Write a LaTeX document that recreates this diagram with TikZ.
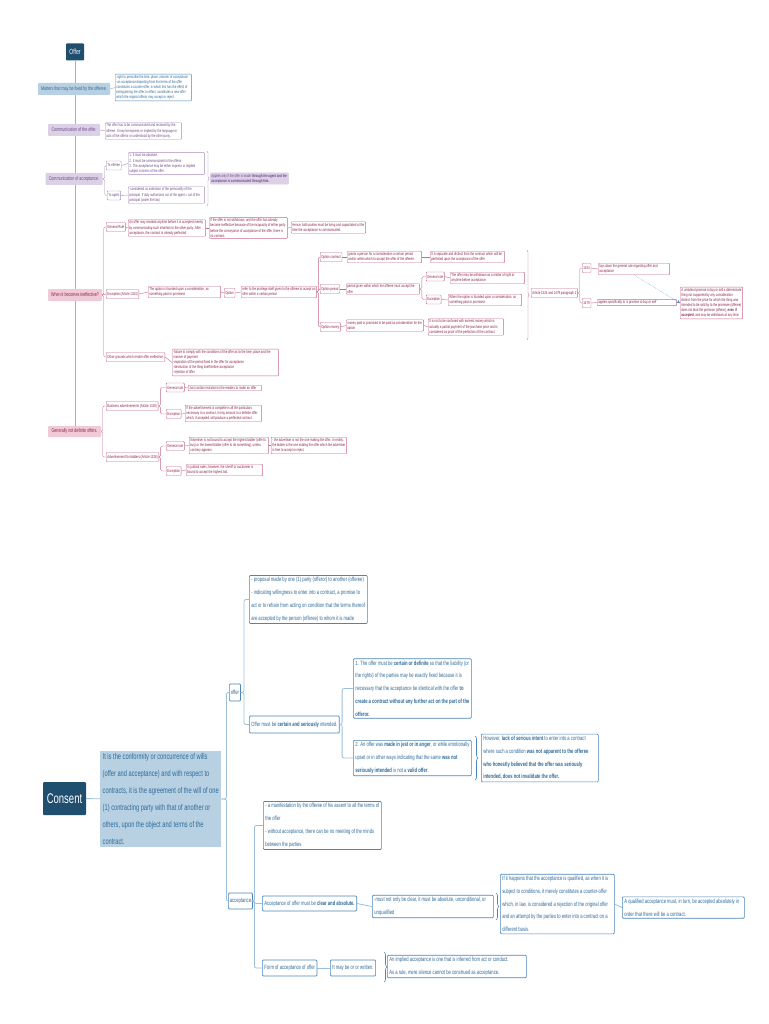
\documentclass[tikz,border=0pt]{standalone}
\usepackage{fontspec}
\setmainfont{Liberation Sans}[FakeStretch=0.68]
\usetikzlibrary{decorations.pathreplacing}
\definecolor{blueD}{HTML}{1F4E6E}
\definecolor{blueT}{HTML}{2F6A9A}
\definecolor{blueB}{HTML}{4A86B8}
\definecolor{blueL}{HTML}{B7D0E2}
\definecolor{lineB}{HTML}{9CC0DC}
\definecolor{purT}{HTML}{6E4A86}
\definecolor{purB}{HTML}{A98BBF}
\definecolor{purF}{HTML}{DCD0E6}
\definecolor{pinkT}{HTML}{8E2449}
\definecolor{pinkB}{HTML}{C56A8B}
\definecolor{pinkF}{HTML}{F0CAD7}
\newcommand\tf{\fontsize{4.2}{5.1}\selectfont}
\newcommand\bfnt{\fontsize{6.1}{12.8}\selectfont}
\tikzset{
 tp/.style={draw=pinkB, fill=white, rounded corners=0.8pt, inner sep=1.2pt, align=flush left, anchor=west, font=\tf, text=pinkT, line width=0.4pt},
 tq/.style={tp, draw=purB, text=purT},
 tbl/.style={tp, draw=blueB, text=blueT},
 lab/.style={minimum height=9pt},
 cat/.style={anchor=center, inner sep=1pt, rounded corners=0.8pt, font=\fontsize{5.4}{6}\selectfont},
 cp/.style={draw=pinkB, line width=0.4pt, rounded corners=1.5pt},
 cq/.style={draw=purB, line width=0.4pt, rounded corners=1.5pt},
 bb/.style={draw=blueB, fill=white, rounded corners=1pt, inner sep=2pt, align=flush left, anchor=west, font=\bfnt, text=blueT, line width=0.7pt},
 cb/.style={draw=lineB, line width=0.8pt, rounded corners=2pt},
 brp/.style={decorate, decoration={brace, amplitude=2pt}, draw=pinkB, line width=0.4pt},
 brb/.style={decorate, decoration={brace, amplitude=3pt}, draw=blueB, line width=0.6pt},
}
\begin{document}
\begin{tikzpicture}[x=1pt,y=-1pt]
\useasboundingbox[fill=white] (0,0) rectangle (768,1024);
% ===== TOP =====
\draw[draw=blueB!60, line width=0.5pt] (75,61) -- (75,431);
\node[cat, fill=blueD, text=white, minimum width=18pt, minimum height=17pt, font=\fontsize{7.5}{8}\selectfont] (offer) at (75,52) {Offer};
\node[cat, fill=blueL, text=blueT, minimum width=72pt, minimum height=12pt] (matters) at (74,89) {Matters that may be fixed by the offeree.};
\node[tbl, text width=74pt] (mtext) at (115,87.5) {-right to prescribe the time, place, manner of acceptance\\-an acceptance departing from the terms of the offer constitutes a counter-offer, in which this has the effect of extinguishing the offer, in effect, constitutes a new offer which the original offeror may accept or reject.};
\draw[draw=blueB!70, line width=0.4pt] (matters.east) -- (mtext.west);
\node[cat, fill=purF, text=purT, minimum width=52pt, minimum height=12pt] (commoff) at (74,130) {Communication of the offer.};
\node[tq, text width=74pt] (cotext) at (105,131) {The offer has to be communicated and received by the offeree. It may be express or implied by the language or acts of the offeror or understood by the other party.};
\draw[cq] (commoff.east) -- (cotext.west);
\node[cat, fill=purF, text=purT, minimum width=57pt, minimum height=12pt] (commacc) at (74,179) {Communication of acceptance.};
\node[tq, lab] (tooff) at (106,165.5) {To offeree};
\node[tq, text width=74pt] (toofft) at (128,163.5) {1. It must be absolute.\\2. It must be communicated to the offeror.\\3. The acceptance may be either express or implied subject to terms of the offer};
\node[tq, lab] (toag) at (107,195.5) {To agent};
\node[tq, text width=74pt] (toagt) at (128,195) {-considered as extension of the personality of the principal. If duly authorized, act of the agent = act of the principal (under the law)};
\draw[cq] (commacc.east) -- ++(2,0) |- (tooff.west);
\draw[cq] (commacc.east) -- ++(2,0) |- (toag.west);
\draw[cq] (tooff.east) -- (toofft.west);
\draw[cq] (toag.east) -- (toagt.west);
\draw[brp, draw=purB] (207,151) -- (207,206);
\node[tq, fill=purF, draw=purF, text width=76pt] (applies) at (210,178.5) {Applies only if the offer is made \textbf{through the agent and the acceptance is communicated through him.}};
% ineffective
\node[cat, fill=pinkF, text=pinkT, minimum width=54pt, minimum height=12pt] (ineff) at (75,295) {When it becomes ineffective?};
\node[tp, lab] (genr) at (106,227) {General Rule};
\node[tp, text width=75pt] (gr1) at (128,228) {An offer may revoked anytime before it is accepted merely by communicating such intention to the other party. After acceptance, the contract is already perfected.};
\node[tp, text width=76pt] (gr2) at (209,228) {If the offer is not withdrawn, and the offer has already become ineffective because of the incapacity of either party before the conveyance of acceptance of the offer, there is no contract.};
\node[tp, text width=72pt] (gr3) at (291,227.5) {Hence, both parties must be living and capacitated at the time the acceptance is communicated.};
\draw[cp] (ineff.east) -- ++(1.5,0) |- (genr.west);
\draw[cp] (genr.east) -- (gr1.west);
\draw[cp] (gr1.east) -- (gr2.west);
\draw[cp] (gr2.east) -- (gr3.west);
\node[tp, lab] (exc) at (106,294) {Exception (Article 1324)};
\node[tp, text width=70pt] (exct) at (148,292) {The option is founded upon a consideration, as something paid or promised.};
\node[tp, lab] (option) at (224,293) {Option};
\node[tp, text width=73pt] (optt) at (241,292) {refer to the privilege itself given to the offeree to accept an offer within a certain period};
\draw[cp] (ineff.east) -- (exc.west);
\draw[cp] (exc.east) -- (exct.west);
\draw[cp] (exct.east) -- (option.west);
\draw[cp] (option.east) -- (optt.west);
\node[tp, lab] (oc) at (320,257) {Option contract};
\node[tp, text width=72pt] (oct) at (347,257) {grants a person for a consideration a certain period and/or within which to accept the offer of the offeree};
\node[tp, text width=72pt] (oct2) at (430,257) {It is separate and distinct from the contract which will be perfected upon the acceptance of the offer};
\node[tp, lab] (op) at (320,289) {Option period};
\node[tp, text width=71pt] (opt) at (346,289) {period given within which the offeree must accept the offer};
\node[tp, lab] (og) at (426,276.5) {General rule};
\node[tp, text width=72pt] (ogt) at (450,278) {The offer may be withdrawn as a matter of right at anytime before acceptance.};
\node[tp, lab] (oe) at (426,299.5) {Exception};
\node[tp, text width=71pt] (oet) at (448,300) {When the option is founded upon a consideration, as something paid or promised.};
\node[tp, lab] (om) at (320,327) {Option money};
\node[tp, text width=75pt] (omt) at (346,325.5) {money paid or promised to be paid as consideration for the option};
\node[tp, text width=73pt] (omt2) at (428,327) {It is not to be confused with earnest money which is actually a partial payment of the purchase price and is considered as proof of the perfection of the contract.};
\draw[cp] (optt.east) -- ++(1.5,0) |- (oc.west);
\draw[cp] (optt.east) -- (op.west);
\draw[cp] (optt.east) -- ++(1.5,0) |- (om.west);
\draw[cp] (oc.east) -- (oct.west);
\draw[cp] (oct.east) -- (oct2.west);
\draw[cp] (op.east) -- (opt.west);
\draw[cp] (opt.east) -- ++(2,0) |- (og.west);
\draw[cp] (opt.east) -- ++(2,0) |- (oe.west);
\draw[cp] (og.east) -- (ogt.west);
\draw[cp] (oe.east) -- (oet.west);
\draw[cp] (om.east) -- (omt.west);
\draw[cp] (omt.east) -- (omt2.west);
\draw[brp] (527,250) -- (527,340);
\node[tp, lab] (art) at (531,293) {Article 1324 and 1479 paragraph 2};
\node[tp, lab] (a1324) at (582,268) {1324};
\node[tp, text width=69pt] (a1324t) at (598,269) {lays down the general rule regarding offer and acceptance};
\node[tp, lab] (a1479) at (582,303) {1479};
\node[tp, text width=77pt] (a1479t) at (597,302.5) {applies specifically to `a promise to buy or sell'};
\node[tp, text width=60pt] (uni) at (680,303) {A unilateral promise to buy or sell a determinate thing not supported by any consideration distinct from the price for which the thing was intended to be sold by to the promisee (offeree) does not bind the promisor (offeror), \textbf{even if accepted}, and may be withdrawn at any time.};
\draw[cp] (art.east) -- ++(2,0) |- (a1324.west);
\draw[cp] (art.east) -- ++(2,0) |- (a1479.west);
\draw[cp] (a1324.east) -- (a1324t.west);
\draw[cp] (a1479.east) -- (a1479t.west);
\draw[cp] (a1479t.east) -- (uni.west);
\draw[draw=blueB, line width=0.4pt, densely dotted, -stealth] (a1324t.south) -- (uni.west);
\node[tp, lab] (other) at (106,357) {Other grounds which render offer ineffective:};
\node[tp, text width=104pt] (othert) at (172,362.5) {-failure to comply with the conditions of the offer as to the time, place and the manner of payment\\-expiration of the period fixed in the offer for acceptance\\-destruction of the thing itself before acceptance\\-rejection of offer};
\draw[cp] (ineff.east) -- ++(1.5,0) |- (other.west);
\draw[cp] (other.east) -- (othert.west);
% generally not definite
\node[cat, fill=pinkF, text=pinkT, minimum width=53pt, minimum height=11pt] (gnd) at (74.5,431.5) {Generally not definite offers.};
\node[tp, lab] (ba) at (106,406) {Business advertisements (Article 1325)};
\node[tp, lab] (bag) at (166,387.5) {General rule};
\node[tp, text width=71pt] (bagt) at (188,388) {Just contain invitation to the readers to make an offer};
\node[tp, lab] (bae) at (166,414) {Exception};
\node[tp, text width=74pt] (baet) at (185,413.5) {If the advertisement is complete in all the particulars necessary to a contract, it may amount to a definite offer which, if accepted, will produce a perfected contract.};
\node[tp, lab] (ab) at (106,457) {Advertisement for bidders (Article 1326)};
\node[tp, lab] (abg) at (166,446) {General rule};
\node[tp, text width=77pt] (abgt) at (189,445.5) {Advertiser is not bound to accept the highest bidder (offer to buy) or the lowest bidder (offer to do something), unless contrary appears.};
\node[tp, text width=73pt] (abgt2) at (271,445.5) {- the advertiser is not the one making the offer. In reality, the bidder is the one making the offer which the advertiser is free to accept or reject.};
\node[tp, lab] (abe) at (166,471) {Exception};
\node[tp, text width=74pt] (abet) at (186,470) {In judicial sales, however, the sheriff or auctioneer is bound to accept the highest bid.};
\draw[cp] (gnd.east) -- ++(1.5,0) |- (ba.west);
\draw[cp] (gnd.east) -- ++(1.5,0) |- (ab.west);
\draw[cp] (ba.east) -- ++(2,0) |- (bag.west);
\draw[cp] (ba.east) -- ++(2,0) |- (bae.west);
\draw[cp] (bag.east) -- (bagt.west);
\draw[cp] (bae.east) -- (baet.west);
\draw[cp] (ab.east) -- ++(1.5,0) |- (abg.west);
\draw[cp] (ab.east) -- ++(1.5,0) |- (abe.west);
\draw[cp] (abg.east) -- (abgt.west);
\draw[cp] (abgt.east) -- (abgt2.west);
\draw[cp] (abe.east) -- (abet.west);
% ===== BOTTOM =====
\node[anchor=center, fill=blueD, text=white, rounded corners=1pt, minimum width=43pt, minimum height=33pt, font=\fontsize{14}{16}\selectfont] (consent) at (64.5,798.5) {Consent};
\node[anchor=west, fill=blueL, text=blueT, align=flush left, inner sep=2.5pt, text width=116pt, font=\fontsize{8.4}{17}\selectfont] (def) at (100,799) {It is the conformity or concurrence of wills (offer and acceptance) and with respect to contracts, it is the agreement of the will of one (1) contracting party with that of another or others, upon the object and terms of the contract.};
\draw[cb] (consent) -- (def);
\node[bb, minimum height=17pt, inner sep=1.5pt] (offerb) at (229,692.5) {offer};
\node[bb, text width=114pt] (pr) at (249,599.5) {- proposal made by one (1) party (offeror) to another (offeree)\\- indicating willingness to enter into a contract, a promise to act or to refrain from acting on condition that the terms thereof are accepted by the person (offeree) to whom it is made};
\node[bb, minimum height=17pt] (cert) at (249,724.5) {Offer must be \textbf{certain and seriously} intended.};
\node[bb, text width=114pt] (one) at (353,688.5) {1. The offer must be \textbf{certain or definite} so that the liability (or the rights) of the parties may be exactly fixed because it is necessary that the acceptance be identical with the offer \textbf{to create a contract without any further act on the part of the offeror.}};
\node[bb, text width=114pt] (two) at (353,758) {2. An offer was \textbf{made in jest or in anger}, or while emotionally upset or in other ways indicating that the same \textbf{was not seriously intended} is not a \textbf{valid offer}.};
\draw[brb] (475,736) -- (475,780);
\node[bb, text width=113pt] (how) at (481,758) {However, \textbf{lack of serious intent} to enter into a contract where such a condition \textbf{was not apparent to the offeree who honestly believed that the offer was seriously intended, does not invalidate the offer.}};
\node[bb, minimum height=16pt, inner sep=1.5pt] (accb) at (228,901) {acceptance};
\node[bb, text width=114pt] (man) at (263,825.5) {- a manifestation by the offeree of his assent to all the terms of the offer\\- without acceptance, there can be no meeting of the minds between the parties};
\node[bb, minimum height=15pt] (clear) at (262,903.5) {Acceptance of offer must be \textbf{clear and absolute.}};
\node[bb, text width=117pt] (must) at (372,906.5) {-must not only be clear, it must be absolute, unconditional, or unqualified};
\draw[brb] (496,893) -- (496,920);
\node[bb, text width=110pt] (ifq) at (500,904) {If it happens that the acceptance is qualified, as when it is subject to conditions, it merely constitutes a counter-offer which, in law, is considered a rejection of the original offer and an attempt by the parties to enter into a contract on a different basis.};
\node[bb, text width=118pt] (qual) at (622,907.5) {A qualified acceptance must, in turn, be accepted absolutely in order that there will be a contract.};
\node[bb, minimum height=16pt] (form) at (262,968) {Form of acceptance of offer};
\node[bb, minimum height=16pt] (may) at (330,968) {It may be or or written.};
\draw[brb] (384,952) -- (384,982);
\node[bb, text width=135pt] (impl) at (387,966.5) {An implied acceptance is one that is inferred from act or conduct.\\As a rule, mere silence cannot be construed as acceptance.};
\draw[cb] (def.east) -- ++(5,0) |- (offerb.west);
\draw[cb] (def.east) -- ++(5,0) |- (accb.west);
\draw[cb] (offerb.east) -- ++(3,0) |- (pr.west);
\draw[cb] (offerb.east) -- ++(3,0) |- (cert.west);
\draw[cb] (cert.east) -- ++(2.5,0) |- (one.west);
\draw[cb] (cert.east) -- ++(2.5,0) |- (two.west);
\draw[cb] (accb.east) -- ++(1.5,0) |- (man.west);
\draw[cb] (accb.east) -- ++(1.5,0) |- (clear.west);
\draw[cb] (accb.east) -- ++(1.5,0) |- (form.west);
\draw[cb] (clear.east) -- (must.west);
\draw[cb] (ifq.east) -- (qual.west);
\draw[cb] (form.east) -- (may.west);
\end{tikzpicture}
\end{document}
